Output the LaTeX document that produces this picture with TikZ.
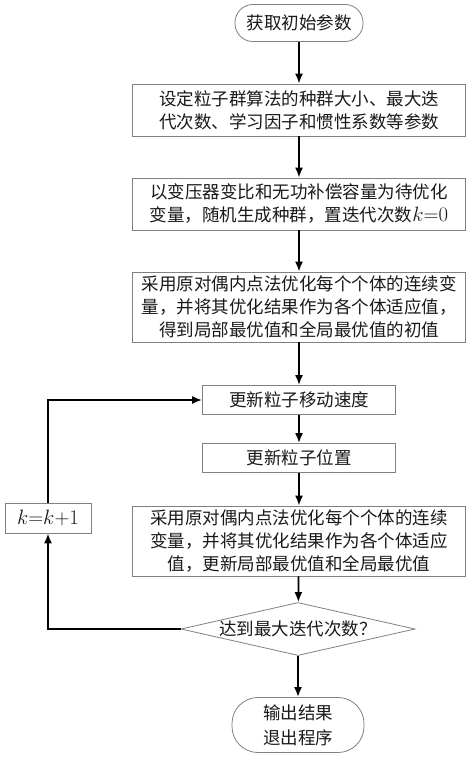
\documentclass[tikz,border=0pt]{standalone}
\usepackage{amsmath, amsfonts}
\usepackage{xcolor}
\usepackage{fontspec}
\usepackage{tikz}
\usetikzlibrary{arrows.meta,shapes.geometric}
\newfontfamily\cjk{Noto Sans CJK SC}
\newcommand{\bigmath}[1]{{\fontsize{22}{23}\selectfont$#1$}}

\begin{document}
\begin{tikzpicture}[x=1pt,y=-1pt,
  every node/.style={font=\cjk\fontsize{17.5}{23}\selectfont,text=black!90},
  proc node/.style={rectangle,draw=black!50,line width=0.8pt,inner sep=2pt,align=center,minimum width=333pt},
  small node/.style={proc node,minimum width=193pt,minimum height=29pt},
  term node/.style={rectangle,draw=black!50,line width=0.8pt,align=center},
  cond node/.style={diamond,draw=black!50,line width=0.8pt,minimum width=234pt,minimum height=53pt,inner sep=0pt},
  flow/.style={line width=1.8pt,-{Latex[length=10pt,width=8pt]}}]
        \useasboundingbox (0,0) rectangle (474,759);
        \node[term node,rounded corners=18pt,minimum width=128pt,minimum height=37pt] (1) at (299,23) {获取初始参数};
        \node[proc node,minimum height=52pt] (2) at (299,110) {设定粒子群算法的种群大小、最大迭\\代次数、学习因子和惯性系数等参数};
        \node[proc node,minimum height=52pt] (3) at (299,204) {以变压器变比和无功补偿容量为待优化\\变量，随机生成种群，置迭代次数\bigmath{k{=}0}};
        \node[proc node,minimum height=70pt] (4) at (299,307) {采用原对偶内点法优化每个个体的连续变\\量，并将其优化结果作为各个体适应值，\\得到局部最优值和全局最优值的初值};
        \node[small node] (5) at (299,400) {更新粒子移动速度};
        \node[small node] (6) at (299,458) {更新粒子位置};
        \node[proc node,minimum height=70pt] (7) at (299,541) {采用原对偶内点法优化每个个体的连续\\变量，并将其优化结果作为各个体适应\\值，更新局部最优值和全局最优值};
        \node[cond node,label=center:{达到最大迭代次数？}] (8) at (298,629) {};
        \node[term node,rounded corners=26pt,minimum width=132pt,minimum height=55pt,
          font=\cjk\fontsize{17.5}{25}\selectfont] (9) at (298,725) {输出结果\\退出程序};
        \node[proc node,minimum width=86pt,minimum height=30pt] (10) at (48,518) {\bigmath{k{=}k{+}1}};
        \path[flow]
          (1) edge (2)
          (2) edge (3)
          (3) edge (4)
          (4) edge (5)
          (5) edge (6)
          (6) edge (7)
          (7) edge (8)
          (8) edge (9);
        \draw[flow] (8.west) -| (10);
        \draw[flow] (10) |- (5);
      \end{tikzpicture}
\end{document}
